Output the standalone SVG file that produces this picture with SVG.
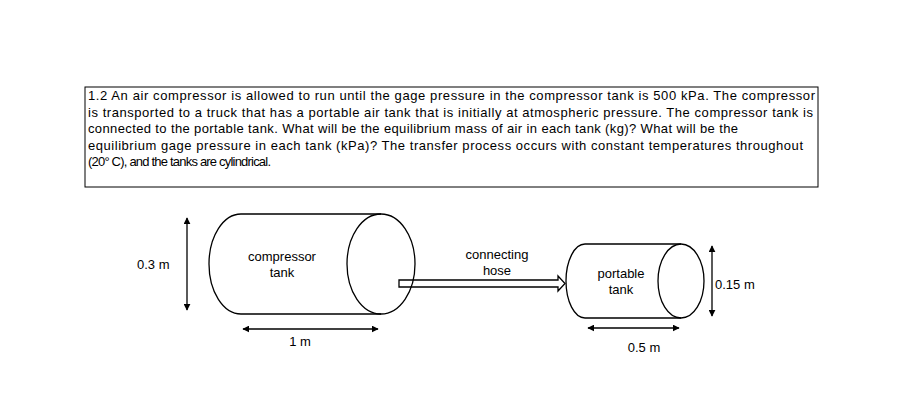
<svg xmlns="http://www.w3.org/2000/svg" width="911" height="410" viewBox="0 0 911 410">
<style>
text{font-family:"Liberation Sans",Arial,sans-serif;font-size:13px;fill:#000}
.s{fill:none;stroke:#000;stroke-width:1.3}
.m{text-anchor:middle}
</style>
<defs>
<marker id="a" viewBox="0 0 10 10" refX="9" refY="5" markerWidth="7" markerHeight="7" orient="auto-start-reverse" markerUnits="userSpaceOnUse"><path d="M0,0L10,5L0,10z"/></marker>
</defs>
<rect width="911" height="410" fill="#fff"/>
<g id="problem" xml:space="preserve">
<rect x="85" y="87" width="733" height="100" fill="none" stroke="#000"/>
<text x="88" y="100" textLength="727" lengthAdjust="spacing">1.2 An air compressor is allowed to run until the gage pressure in the compressor tank is 500 kPa.  The compressor</text>
<text x="88" y="116.5" textLength="725" lengthAdjust="spacing">is transported to a truck that has a portable air tank that is initially at atmospheric pressure. The compressor tank is</text>
<text x="88" y="133" textLength="650" lengthAdjust="spacing">connected to the portable tank.  What will be the equilibrium mass of air in each tank (kg)?  What will be the</text>
<text x="88" y="149.5" textLength="715" lengthAdjust="spacing">equilibrium gage pressure in each tank (kPa)?  The transfer process occurs with constant temperatures throughout</text>
<text x="88" y="166" textLength="183" lengthAdjust="spacing">(20° C), and the tanks are cylindrical.</text>
</g>
<g id="compressor-tank">
<path class="s" d="M241,214 A32,50 0 0 0 241,314 L381,314 M241,214 L381,214"/>
<ellipse class="s" cx="381" cy="264" rx="34" ry="50"/>
<text class="m" x="282" y="261">compressor</text>
<text class="m" x="282" y="277">tank</text>
</g>
<g id="portable-tank">
<path class="s" d="M585,244 A19,37 0 0 0 585,318 L681,318 M585,244 L681,244"/>
<ellipse class="s" cx="681" cy="281" rx="23" ry="37"/>
<text class="m" x="621" y="278">portable</text>
<text class="m" x="621" y="294">tank</text>
</g>
<g id="connectors">
<path class="s" d="M399,280 L558,280 L558,276 L565,283.5 L558,291 L558,287 L399,287 Z" fill="#fff" stroke-width="1"/>
<line class="s" x1="187" y1="218" x2="187" y2="310" marker-start="url(#a)" marker-end="url(#a)"/>
<line class="s" x1="243" y1="329" x2="378" y2="329" marker-start="url(#a)" marker-end="url(#a)"/>
<line class="s" x1="712" y1="246" x2="712" y2="316" marker-start="url(#a)" marker-end="url(#a)"/>
<line class="s" x1="588" y1="328" x2="679" y2="328" marker-start="url(#a)" marker-end="url(#a)"/>
</g>
<g id="labels">
<text x="137" y="269">0.3 m</text>
<text class="m" x="300" y="346">1 m</text>
<text class="m" x="497" y="259">connecting</text>
<text class="m" x="497" y="275">hose</text>
<text x="715" y="289">0.15 m</text>
<text class="m" x="644" y="352">0.5 m</text>
</g>
</svg>
